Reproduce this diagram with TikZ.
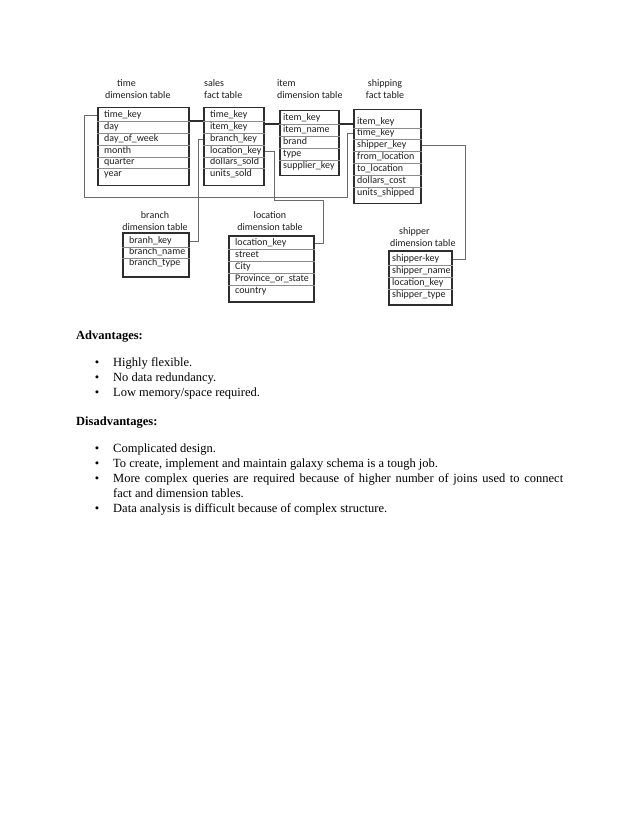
\documentclass[tikz,border=0pt]{standalone}
\usepackage{fontspec}
\setmainfont{Liberation Serif}
\newfontfamily\carlito{Carlito}
\newcommand{\fieldfont}{\carlito\fontsize{10}{12}\selectfont}
\newcommand{\bodyfont}{\fontsize{12.5}{15}\selectfont}
\definecolor{boxcol}{HTML}{2E2E2E}
\definecolor{sepcol}{HTML}{8C8C8C}
\definecolor{linkcol}{HTML}{6A6A6A}
\definecolor{txtcol}{HTML}{1E1E1E}
\tikzset{
  tbl/.style={draw=boxcol, line width=1.5pt, anchor=north west, inner sep=0pt},
  field/.style={anchor=west, inner sep=0pt, minimum height=11.8pt, text height=7pt, text depth=2pt, font=\fieldfont, text=txtcol},
  caption/.style={inner sep=0pt, font=\fieldfont, text=txtcol},
  sep/.style={draw=sepcol, line width=0.8pt},
  link/.style={draw=linkcol, line width=0.8pt},
  joinline/.style={draw=boxcol, line width=1.4pt},
  head/.style={anchor=base west, inner sep=0pt, font=\bodyfont\bfseries},
  bul/.style={anchor=base, inner sep=0pt, font=\bodyfont},
  entry/.style={anchor=base west, inner sep=0pt, font=\bodyfont, text width=450pt, align=justify}
}
\begin{document}
\begin{tikzpicture}[x=1pt,y=-1pt]
      \fill[white] (0,0) rectangle (638,826);
      \useasboundingbox (0,0) rectangle (638,826);
      % table boxes
      \path
        (97,107) node[tbl,minimum width=91pt,minimum height=78pt] (time){}
        (203,107) node[tbl,minimum width=60pt,minimum height=78pt] (sales){}
        (279,110) node[tbl,minimum width=59pt,minimum height=65pt] (item){}
        (353,109) node[tbl,minimum width=67pt,minimum height=94pt] (shipping){}
        (122,232) node[tbl,minimum width=66pt,minimum height=44pt] (branch){}
        (228,235) node[tbl,minimum width=85pt,minimum height=66pt] (location){}
        (388,250) node[tbl,minimum width=63pt,minimum height=54pt] (shipper){};
      % captions
      \path
        (105,89) node[caption,anchor=west,align=left] (timecap){\hspace*{12pt}time\\dimension table}
        (204,89) node[caption,anchor=west,align=left] (salescap){sales\\fact table}
        (277,89) node[caption,anchor=west,align=left] (itemcap){item\\dimension table}
        (385,89) node[caption,align=center] (shippingcap){shipping\\fact table}
        (155,221) node[caption,align=center] (branchcap){branch\\dimension table}
        (270,221) node[caption,align=center] (locationcap){location\\dimension table}
        (390,237) node[caption,anchor=west,align=left] (shippercap){\hspace*{9pt}shipper\\dimension table};
      % fields
      \path
        (104,115) node[field] (t1){time\_key}
        (104,127) node[field] (t2){day}
        (104,139) node[field] (t3){day\_of\_week}
        (104,151) node[field] (t4){month}
        (104,162) node[field] (t5){quarter}
        (104,174) node[field] (t6){year};
      \path
        (210,115) node[field] (s1){time\_key}
        (210,127) node[field] (s2){item\_key}
        (210,139) node[field] (s3){branch\_key}
        (210,151) node[field] (s4){location\_key}
        (210,162) node[field] (s5){dollars\_sold}
        (210,174) node[field] (s6){units\_sold};
      \path
        (283,118) node[field] (i1){item\_key}
        (283,130) node[field] (i2){item\_name}
        (283,142) node[field] (i3){brand}
        (283,154) node[field] (i4){type}
        (283,166) node[field] (i5){supplier\_key};
      \path
        (357,122) node[field] (h1){item\_key}
        (357,133) node[field] (h2){time\_key}
        (357,145) node[field] (h3){shipper\_key}
        (357,157) node[field] (h4){from\_location}
        (357,169) node[field] (h5){to\_location}
        (357,181) node[field] (h6){dollars\_cost}
        (357,193) node[field] (h7){units\_shipped};
      \path
        (129,241) node[field] (b1){branh\_key}
        (129,252) node[field] (b2){branch\_name}
        (129,263) node[field] (b3){branch\_type};
      \path
        (235,243) node[field] (l1){location\_key}
        (235,255) node[field] (l2){street}
        (235,267) node[field] (l3){City}
        (235,279) node[field] (l4){Province\_or\_state}
        (235,291) node[field] (l5){country};
      \path
        (392,259) node[field] (p1){shipper-key}
        (392,271) node[field] (p2){shipper\_name}
        (392,283) node[field] (p3){location\_key}
        (392,295) node[field] (p4){shipper\_type};
      % row lines
      \begin{scope}[sep]
        \draw (time.west |- t1.south) -- (time.east |- t1.south);
        \draw (time.west |- t2.south) -- (time.east |- t2.south);
        \draw (time.west |- t3.south) -- (time.east |- t3.south);
        \draw (time.west |- t4.south) -- (time.east |- t4.south);
        \draw (time.west |- t5.south) -- (time.east |- t5.south);
        \draw (sales.west |- s1.south) -- (sales.east |- s1.south);
        \draw (sales.west |- s2.south) -- (sales.east |- s2.south);
        \draw (sales.west |- s3.south) -- (sales.east |- s3.south);
        \draw (sales.west |- s4.south) -- (sales.east |- s4.south);
        \draw (sales.west |- s5.south) -- (sales.east |- s5.south);
        \draw (item.west |- i1.south) -- (item.east |- i1.south);
        \draw (item.west |- i2.south) -- (item.east |- i2.south);
        \draw (item.west |- i3.south) -- (item.east |- i3.south);
        \draw (item.west |- i4.south) -- (item.east |- i4.south);
        \draw (shipping.west |- h1.south) -- (shipping.east |- h1.south);
        \draw (shipping.west |- h2.south) -- (shipping.east |- h2.south);
        \draw (shipping.west |- h3.south) -- (shipping.east |- h3.south);
        \draw (shipping.west |- h4.south) -- (shipping.east |- h4.south);
        \draw (shipping.west |- h5.south) -- (shipping.east |- h5.south);
        \draw (shipping.west |- h6.south) -- (shipping.east |- h6.south);
        \draw (branch.west |- b1.south) -- (branch.east |- b1.south);
        \draw (branch.west |- b2.south) -- (branch.east |- b2.south);
        \draw (location.west |- l1.south) -- (location.east |- l1.south);
        \draw (location.west |- l2.south) -- (location.east |- l2.south);
        \draw (location.west |- l3.south) -- (location.east |- l3.south);
        \draw (location.west |- l4.south) -- (location.east |- l4.south);
        \draw (shipper.west |- p1.south) -- (shipper.east |- p1.south);
        \draw (shipper.west |- p2.south) -- (shipper.east |- p2.south);
        \draw (shipper.west |- p3.south) -- (shipper.east |- p3.south);
      \end{scope}
      % joins
      \coordinate (lowbus) at (347,197);
      \coordinate (locbend) at (323,200);
      \begin{scope}[link]
        \draw (time.west |- t1) -- ++(-13,0) |- (lowbus) |- (shipping.west |- h2);
        \draw (sales.west |- s3) -- ++(-5,0) |- (branch.east |- b1);
        \draw (sales.east |- s4) -- ++(10,0) |- (locbend) |- (location.east |- l1);
        \draw (shipping.east |- h3) -- ++(44,0) |- (shipper.east |- p1);
      \end{scope}
      \begin{scope}[joinline]
        \draw (time.east |- t1.south) -- (sales.west |- t1.south);
        \draw (sales.east |- i1.south) -- (item.west |- i1.south);
        \draw (item.east |- i1.south) -- (shipping.west |- i1.south);
      \end{scope}
      % text below
      \path
        (76,339) node[head] (adv){Advantages:}
        (97,366) node[bul] (ab1){\textbullet}
        (113,366) node[entry] (a1){Highly flexible.}
        (97,381) node[bul] (ab2){\textbullet}
        (113,381) node[entry] (a2){No data redundancy.}
        (97,396) node[bul] (ab3){\textbullet}
        (113,396) node[entry] (a3){Low memory/space required.};
      \path
        (76,425) node[head] (dis){Disadvantages:}
        (97,452) node[bul] (db1){\textbullet}
        (113,452) node[entry] (d1){Complicated design.}
        (97,467) node[bul] (db2){\textbullet}
        (113,467) node[entry] (d2){To create, implement and maintain galaxy schema is a tough job.}
        (97,482) node[bul] (db3){\textbullet}
        (113,482) node[entry] (d3){More complex queries are required because of higher number of joins used to connect\linebreak fact and dimension tables.}
        (97,512) node[bul] (db4){\textbullet}
        (113,512) node[entry] (d4){Data analysis is difficult because of complex structure.};
\end{tikzpicture}
\end{document}
